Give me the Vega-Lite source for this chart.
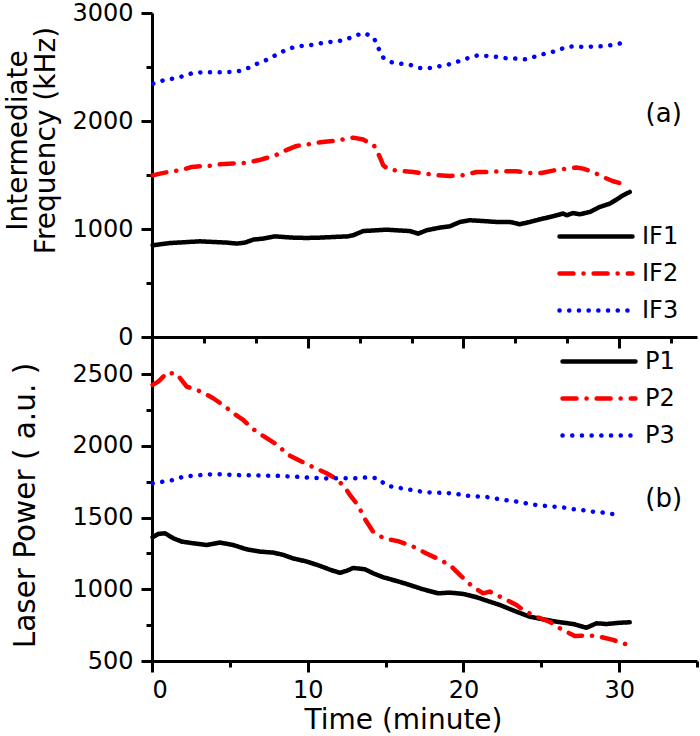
{
  "$schema": "https://vega.github.io/schema/vega-lite/v6.json",
  "padding": {"left": 3, "top": 1, "right": 0, "bottom": 0},
  "background": "white",
  "bounds": "flush",
  "spacing": 0,
  "resolve": {
    "scale": {"color": "independent", "strokeDash": "independent"},
    "legend": {"color": "independent", "strokeDash": "independent"}
  },
  "config": {
    "font": "DejaVu Sans",
    "view": {"stroke": null},
    "axis": {
      "grid": false,
      "domainColor": "black",
      "domainWidth": 3,
      "tickColor": "black",
      "tickWidth": 3,
      "labelColor": "black",
      "labelFont": "DejaVu Sans",
      "labelFontSize": 24,
      "titleColor": "black",
      "titleFont": "DejaVu Sans",
      "titleFontSize": 28,
      "titleFontWeight": "normal",
      "format": "d"
    },
    "legend": {
      "title": null,
      "orient": "none",
      "direction": "vertical",
      "columns": 1,
      "gridAlign": "all",
      "symbolType": "stroke",
      "symbolSize": 5329,
      "symbolStrokeWidth": 4.5,
      "labelFont": "DejaVu Sans",
      "labelFontSize": 24,
      "labelColor": "black",
      "labelOffset": 7,
      "clipHeight": 37,
      "rowPadding": 0,
      "padding": 0
    }
  },
  "datasets": {
    "frequency": [
      {"t": 0.04, "v": 849, "s": "IF1"}, {"t": 0.51, "v": 858, "s": "IF1"}, {"t": 1.16, "v": 870, "s": "IF1"}, {"t": 2.01, "v": 877, "s": "IF1"},
      {"t": 3.08, "v": 886, "s": "IF1"}, {"t": 3.93, "v": 880, "s": "IF1"}, {"t": 4.79, "v": 874, "s": "IF1"}, {"t": 5.44, "v": 865, "s": "IF1"},
      {"t": 5.97, "v": 874, "s": "IF1"}, {"t": 6.5, "v": 902, "s": "IF1"}, {"t": 7.14, "v": 911, "s": "IF1"}, {"t": 7.89, "v": 932, "s": "IF1"},
      {"t": 8.43, "v": 926, "s": "IF1"}, {"t": 9.07, "v": 920, "s": "IF1"}, {"t": 9.93, "v": 917, "s": "IF1"}, {"t": 10.78, "v": 920, "s": "IF1"},
      {"t": 11.64, "v": 926, "s": "IF1"}, {"t": 12.6, "v": 932, "s": "IF1"}, {"t": 12.92, "v": 942, "s": "IF1"}, {"t": 13.56, "v": 981, "s": "IF1"},
      {"t": 14.42, "v": 988, "s": "IF1"}, {"t": 15.06, "v": 994, "s": "IF1"}, {"t": 15.71, "v": 988, "s": "IF1"}, {"t": 16.56, "v": 981, "s": "IF1"},
      {"t": 17.09, "v": 957, "s": "IF1"}, {"t": 17.63, "v": 988, "s": "IF1"}, {"t": 18.49, "v": 1013, "s": "IF1"}, {"t": 19.13, "v": 1025, "s": "IF1"},
      {"t": 19.77, "v": 1065, "s": "IF1"}, {"t": 20.41, "v": 1081, "s": "IF1"}, {"t": 21.26, "v": 1074, "s": "IF1"}, {"t": 22.12, "v": 1065, "s": "IF1"},
      {"t": 22.98, "v": 1065, "s": "IF1"}, {"t": 23.62, "v": 1044, "s": "IF1"}, {"t": 24.26, "v": 1065, "s": "IF1"}, {"t": 25.11, "v": 1096, "s": "IF1"},
      {"t": 25.76, "v": 1118, "s": "IF1"}, {"t": 26.4, "v": 1143, "s": "IF1"}, {"t": 26.62, "v": 1127, "s": "IF1"}, {"t": 27.04, "v": 1148, "s": "IF1"},
      {"t": 27.47, "v": 1136, "s": "IF1"}, {"t": 28.11, "v": 1157, "s": "IF1"}, {"t": 28.75, "v": 1204, "s": "IF1"}, {"t": 29.4, "v": 1235, "s": "IF1"},
      {"t": 29.83, "v": 1272, "s": "IF1"}, {"t": 30.25, "v": 1312, "s": "IF1"}, {"t": 30.68, "v": 1343, "s": "IF1"},

      {"t": 0.04, "v": 1497, "s": "IF2"}, {"t": 0.51, "v": 1513, "s": "IF2"}, {"t": 1.05, "v": 1528, "s": "IF2"}, {"t": 1.8, "v": 1544, "s": "IF2"},
      {"t": 2.55, "v": 1574, "s": "IF2"}, {"t": 3.08, "v": 1581, "s": "IF2"}, {"t": 3.61, "v": 1583, "s": "IF2"}, {"t": 4.36, "v": 1599, "s": "IF2"},
      {"t": 5.22, "v": 1606, "s": "IF2"}, {"t": 5.97, "v": 1611, "s": "IF2"}, {"t": 6.82, "v": 1636, "s": "IF2"}, {"t": 7.57, "v": 1667, "s": "IF2"},
      {"t": 8.22, "v": 1698, "s": "IF2"}, {"t": 8.54, "v": 1726, "s": "IF2"}, {"t": 9.29, "v": 1769, "s": "IF2"}, {"t": 10.03, "v": 1784, "s": "IF2"},
      {"t": 10.57, "v": 1798, "s": "IF2"}, {"t": 11.1, "v": 1807, "s": "IF2"}, {"t": 11.83, "v": 1817, "s": "IF2"}, {"t": 12.6, "v": 1840, "s": "IF2"},
      {"t": 12.92, "v": 1846, "s": "IF2"}, {"t": 13.56, "v": 1828, "s": "IF2"}, {"t": 14.25, "v": 1775, "s": "IF2"}, {"t": 14.63, "v": 1667, "s": "IF2"},
      {"t": 14.85, "v": 1590, "s": "IF2"}, {"t": 15.17, "v": 1553, "s": "IF2"}, {"t": 15.92, "v": 1537, "s": "IF2"}, {"t": 16.77, "v": 1528, "s": "IF2"},
      {"t": 17.52, "v": 1513, "s": "IF2"}, {"t": 18.38, "v": 1497, "s": "IF2"}, {"t": 19.13, "v": 1491, "s": "IF2"}, {"t": 19.98, "v": 1497, "s": "IF2"},
      {"t": 20.86, "v": 1528, "s": "IF2"}, {"t": 21.69, "v": 1528, "s": "IF2"}, {"t": 22.45, "v": 1534, "s": "IF2"}, {"t": 23.41, "v": 1534, "s": "IF2"},
      {"t": 24.26, "v": 1519, "s": "IF2"}, {"t": 25.01, "v": 1519, "s": "IF2"}, {"t": 25.87, "v": 1544, "s": "IF2"}, {"t": 26.62, "v": 1559, "s": "IF2"},
      {"t": 27.26, "v": 1569, "s": "IF2"}, {"t": 27.68, "v": 1559, "s": "IF2"}, {"t": 28.33, "v": 1528, "s": "IF2"}, {"t": 28.97, "v": 1481, "s": "IF2"},
      {"t": 29.61, "v": 1442, "s": "IF2"}, {"t": 30.04, "v": 1426, "s": "IF2"},

      {"t": 0.08, "v": 2346, "s": "IF3"}, {"t": 0.73, "v": 2377, "s": "IF3"}, {"t": 1.37, "v": 2393, "s": "IF3"}, {"t": 1.97, "v": 2414, "s": "IF3"},
      {"t": 2.61, "v": 2444, "s": "IF3"}, {"t": 3.19, "v": 2451, "s": "IF3"}, {"t": 3.79, "v": 2451, "s": "IF3"}, {"t": 4.41, "v": 2451, "s": "IF3"},
      {"t": 5.01, "v": 2454, "s": "IF3"}, {"t": 5.6, "v": 2463, "s": "IF3"}, {"t": 6.24, "v": 2494, "s": "IF3"}, {"t": 6.85, "v": 2537, "s": "IF3"},
      {"t": 7.46, "v": 2571, "s": "IF3"}, {"t": 8.04, "v": 2618, "s": "IF3"}, {"t": 8.64, "v": 2661, "s": "IF3"}, {"t": 9.29, "v": 2692, "s": "IF3"},
      {"t": 9.88, "v": 2698, "s": "IF3"}, {"t": 10.53, "v": 2710, "s": "IF3"}, {"t": 11.17, "v": 2729, "s": "IF3"}, {"t": 11.81, "v": 2735, "s": "IF3"},
      {"t": 12.45, "v": 2754, "s": "IF3"}, {"t": 13.05, "v": 2791, "s": "IF3"}, {"t": 13.65, "v": 2815, "s": "IF3"}, {"t": 14.25, "v": 2769, "s": "IF3"},
      {"t": 14.52, "v": 2680, "s": "IF3"}, {"t": 14.85, "v": 2587, "s": "IF3"}, {"t": 15.36, "v": 2544, "s": "IF3"}, {"t": 15.98, "v": 2531, "s": "IF3"},
      {"t": 16.6, "v": 2519, "s": "IF3"}, {"t": 17.2, "v": 2491, "s": "IF3"}, {"t": 17.84, "v": 2491, "s": "IF3"}, {"t": 18.44, "v": 2506, "s": "IF3"},
      {"t": 19.08, "v": 2525, "s": "IF3"}, {"t": 19.7, "v": 2553, "s": "IF3"}, {"t": 20.3, "v": 2583, "s": "IF3"}, {"t": 20.91, "v": 2608, "s": "IF3"},
      {"t": 21.52, "v": 2602, "s": "IF3"}, {"t": 22.16, "v": 2593, "s": "IF3"}, {"t": 22.77, "v": 2581, "s": "IF3"}, {"t": 23.36, "v": 2578, "s": "IF3"},
      {"t": 24.01, "v": 2571, "s": "IF3"}, {"t": 24.65, "v": 2599, "s": "IF3"}, {"t": 25.24, "v": 2624, "s": "IF3"}, {"t": 25.87, "v": 2645, "s": "IF3"},
      {"t": 26.51, "v": 2680, "s": "IF3"}, {"t": 27.09, "v": 2692, "s": "IF3"}, {"t": 27.68, "v": 2685, "s": "IF3"}, {"t": 28.33, "v": 2689, "s": "IF3"},
      {"t": 28.93, "v": 2692, "s": "IF3"}, {"t": 29.57, "v": 2704, "s": "IF3"}, {"t": 30.19, "v": 2722, "s": "IF3"}
    ],
    "power": [
      {"t": 0.04, "v": 1363, "s": "P1"}, {"t": 0.4, "v": 1386, "s": "P1"}, {"t": 0.83, "v": 1391, "s": "P1"}, {"t": 1.37, "v": 1356, "s": "P1"},
      {"t": 1.91, "v": 1333, "s": "P1"}, {"t": 2.65, "v": 1321, "s": "P1"}, {"t": 3.51, "v": 1309, "s": "P1"}, {"t": 4.36, "v": 1326, "s": "P1"},
      {"t": 5.22, "v": 1309, "s": "P1"}, {"t": 6.08, "v": 1279, "s": "P1"}, {"t": 6.93, "v": 1263, "s": "P1"}, {"t": 7.79, "v": 1256, "s": "P1"},
      {"t": 8.43, "v": 1240, "s": "P1"}, {"t": 9.07, "v": 1215, "s": "P1"}, {"t": 9.93, "v": 1194, "s": "P1"}, {"t": 10.78, "v": 1164, "s": "P1"},
      {"t": 11.53, "v": 1133, "s": "P1"}, {"t": 12.07, "v": 1115, "s": "P1"}, {"t": 12.5, "v": 1129, "s": "P1"}, {"t": 12.92, "v": 1149, "s": "P1"},
      {"t": 13.67, "v": 1140, "s": "P1"}, {"t": 14.2, "v": 1112, "s": "P1"}, {"t": 14.85, "v": 1084, "s": "P1"}, {"t": 15.71, "v": 1058, "s": "P1"},
      {"t": 16.56, "v": 1030, "s": "P1"}, {"t": 17.41, "v": 1000, "s": "P1"}, {"t": 18.38, "v": 972, "s": "P1"}, {"t": 19.13, "v": 977, "s": "P1"},
      {"t": 19.98, "v": 968, "s": "P1"}, {"t": 20.84, "v": 945, "s": "P1"}, {"t": 21.69, "v": 914, "s": "P1"}, {"t": 22.34, "v": 891, "s": "P1"},
      {"t": 23.41, "v": 844, "s": "P1"}, {"t": 24.26, "v": 809, "s": "P1"}, {"t": 25.11, "v": 791, "s": "P1"}, {"t": 25.98, "v": 774, "s": "P1"},
      {"t": 27.04, "v": 758, "s": "P1"}, {"t": 27.9, "v": 732, "s": "P1"}, {"t": 28.54, "v": 763, "s": "P1"}, {"t": 29.19, "v": 758, "s": "P1"},
      {"t": 30.04, "v": 767, "s": "P1"}, {"t": 30.68, "v": 770, "s": "P1"},

      {"t": 0.04, "v": 2426, "s": "P2"}, {"t": 0.4, "v": 2449, "s": "P2"}, {"t": 0.73, "v": 2484, "s": "P2"}, {"t": 0.94, "v": 2512, "s": "P2"},
      {"t": 1.59, "v": 2503, "s": "P2"}, {"t": 2.23, "v": 2414, "s": "P2"}, {"t": 2.87, "v": 2391, "s": "P2"}, {"t": 3.29, "v": 2372, "s": "P2"},
      {"t": 3.93, "v": 2333, "s": "P2"}, {"t": 4.69, "v": 2275, "s": "P2"}, {"t": 5.22, "v": 2229, "s": "P2"}, {"t": 5.86, "v": 2182, "s": "P2"},
      {"t": 6.4, "v": 2124, "s": "P2"}, {"t": 7.14, "v": 2070, "s": "P2"}, {"t": 8.0, "v": 2011, "s": "P2"}, {"t": 8.75, "v": 1938, "s": "P2"},
      {"t": 9.5, "v": 1897, "s": "P2"}, {"t": 10.35, "v": 1852, "s": "P2"}, {"t": 11.21, "v": 1810, "s": "P2"}, {"t": 11.94, "v": 1763, "s": "P2"},
      {"t": 12.5, "v": 1693, "s": "P2"}, {"t": 12.71, "v": 1658, "s": "P2"}, {"t": 13.24, "v": 1584, "s": "P2"}, {"t": 13.67, "v": 1491, "s": "P2"},
      {"t": 14.2, "v": 1402, "s": "P2"}, {"t": 14.89, "v": 1356, "s": "P2"}, {"t": 15.79, "v": 1336, "s": "P2"}, {"t": 16.67, "v": 1304, "s": "P2"},
      {"t": 17.46, "v": 1259, "s": "P2"}, {"t": 18.23, "v": 1219, "s": "P2"}, {"t": 19.13, "v": 1170, "s": "P2"}, {"t": 19.82, "v": 1095, "s": "P2"},
      {"t": 20.52, "v": 1025, "s": "P2"}, {"t": 21.26, "v": 972, "s": "P2"}, {"t": 21.69, "v": 984, "s": "P2"}, {"t": 22.34, "v": 949, "s": "P2"},
      {"t": 23.41, "v": 891, "s": "P2"}, {"t": 23.83, "v": 856, "s": "P2"}, {"t": 24.69, "v": 809, "s": "P2"}, {"t": 25.55, "v": 772, "s": "P2"},
      {"t": 26.19, "v": 728, "s": "P2"}, {"t": 27.15, "v": 674, "s": "P2"}, {"t": 28.11, "v": 678, "s": "P2"}, {"t": 28.75, "v": 670, "s": "P2"},
      {"t": 29.61, "v": 647, "s": "P2"}, {"t": 30.57, "v": 612, "s": "P2"},

      {"t": 0.04, "v": 1740, "s": "P3"}, {"t": 0.73, "v": 1751, "s": "P3"}, {"t": 1.37, "v": 1763, "s": "P3"}, {"t": 2.01, "v": 1786, "s": "P3"},
      {"t": 2.65, "v": 1793, "s": "P3"}, {"t": 3.29, "v": 1798, "s": "P3"}, {"t": 3.9, "v": 1803, "s": "P3"}, {"t": 4.54, "v": 1803, "s": "P3"},
      {"t": 5.13, "v": 1798, "s": "P3"}, {"t": 5.76, "v": 1796, "s": "P3"}, {"t": 6.4, "v": 1796, "s": "P3"}, {"t": 7.04, "v": 1794, "s": "P3"},
      {"t": 7.68, "v": 1792, "s": "P3"}, {"t": 8.32, "v": 1791, "s": "P3"}, {"t": 8.92, "v": 1786, "s": "P3"}, {"t": 9.54, "v": 1784, "s": "P3"},
      {"t": 10.14, "v": 1778, "s": "P3"}, {"t": 10.78, "v": 1777, "s": "P3"}, {"t": 11.42, "v": 1772, "s": "P3"}, {"t": 12.02, "v": 1776, "s": "P3"},
      {"t": 12.63, "v": 1774, "s": "P3"}, {"t": 13.24, "v": 1775, "s": "P3"}, {"t": 13.86, "v": 1782, "s": "P3"}, {"t": 14.49, "v": 1775, "s": "P3"},
      {"t": 15.06, "v": 1723, "s": "P3"}, {"t": 15.66, "v": 1712, "s": "P3"}, {"t": 16.3, "v": 1700, "s": "P3"}, {"t": 16.93, "v": 1688, "s": "P3"},
      {"t": 17.57, "v": 1677, "s": "P3"}, {"t": 18.18, "v": 1674, "s": "P3"}, {"t": 18.81, "v": 1672, "s": "P3"}, {"t": 19.42, "v": 1669, "s": "P3"},
      {"t": 20.05, "v": 1656, "s": "P3"}, {"t": 20.68, "v": 1648, "s": "P3"}, {"t": 21.28, "v": 1647, "s": "P3"}, {"t": 21.92, "v": 1637, "s": "P3"},
      {"t": 22.51, "v": 1624, "s": "P3"}, {"t": 23.15, "v": 1617, "s": "P3"}, {"t": 23.79, "v": 1605, "s": "P3"}, {"t": 24.44, "v": 1591, "s": "P3"},
      {"t": 25.05, "v": 1584, "s": "P3"}, {"t": 25.69, "v": 1577, "s": "P3"}, {"t": 26.34, "v": 1573, "s": "P3"}, {"t": 26.94, "v": 1559, "s": "P3"},
      {"t": 27.58, "v": 1554, "s": "P3"}, {"t": 28.22, "v": 1542, "s": "P3"}, {"t": 28.82, "v": 1538, "s": "P3"}, {"t": 29.44, "v": 1526, "s": "P3"},
      {"t": 30.04, "v": 1524, "s": "P3"}
    ]
  },
  "vconcat": [
    {
      "width": 545,
      "height": 324,
      "resolve": {"axis": {"x": "independent", "y": "independent"}},
      "layer": [
        {
          "data": {"name": "frequency"},
          "mark": {"type": "line", "strokeWidth": 4.5, "strokeCap": "round", "strokeJoin": "round"},
          "encoding": {
            "x": {
              "field": "t", "type": "quantitative",
              "scale": {"domain": [0, 35], "nice": false, "zero": false},
              "axis": {"orient": "bottom", "values": [0, 10, 20, 30], "labels": false, "tickSize": 11, "title": null}
            },
            "y": {
              "field": "v", "type": "quantitative",
              "scale": {"domain": [0, 3000], "nice": false},
              "axis": {
                "orient": "left", "values": [0, 1000, 2000, 3000], "tickSize": 11, "labelPadding": 8,
                "title": ["Intermediate", "Frequency (kHz)"], "titleLineHeight": 28,
                "titleX": -120, "titleY": 127, "titleAngle": 270, "titleBaseline": "bottom"
              }
            },
            "color": {
              "field": "s", "type": "nominal",
              "scale": {"domain": ["IF1", "IF2", "IF3"], "range": ["#000000", "#ff0000", "#0000ff"]},
              "legend": {"legendX": 405, "legendY": 205, "encode": {"symbols": {"update": {"strokeCap": {"value": "round"}}}}}
            },
            "strokeDash": {
              "field": "s", "type": "nominal",
              "scale": {"domain": ["IF1", "IF2", "IF3"], "range": [[1, 0], [14, 10, 0.1, 10], [0.1, 9.6]]},
              "legend": {"legendX": 405, "legendY": 205, "encode": {"symbols": {"update": {"strokeCap": {"value": "round"}}}}}
            }
          }
        },
        {
          "data": {"name": "frequency"},
          "mark": {"type": "point", "opacity": 0},
          "encoding": {
            "x": {
              "field": "t", "type": "quantitative",
              "axis": {"orient": "bottom", "values": [3.333, 6.667, 13.333, 16.667, 23.333, 26.667, 33.333], "labels": false, "domain": false, "tickSize": 6, "title": null}
            },
            "y": {
              "field": "v", "type": "quantitative",
              "axis": {"orient": "left", "values": [500, 1500, 2500], "labels": false, "domain": false, "tickSize": 6, "title": null}
            }
          }
        },
        {
          "data": {"values": [{"t": 32.86, "v": 2062, "label": "(a)"}]},
          "mark": {"type": "text", "fontSize": 26, "color": "black", "align": "center", "baseline": "middle"},
          "encoding": {
            "x": {"field": "t", "type": "quantitative", "axis": null},
            "y": {"field": "v", "type": "quantitative", "axis": null},
            "text": {"field": "label"}
          }
        }
      ]
    },
    {
      "width": 545,
      "height": 324,
      "resolve": {"axis": {"x": "independent", "y": "independent"}},
      "layer": [
        {
          "data": {"name": "power"},
          "mark": {"type": "line", "strokeWidth": 4.5, "strokeCap": "round", "strokeJoin": "round"},
          "encoding": {
            "x": {
              "field": "t", "type": "quantitative",
              "scale": {"domain": [0, 35], "nice": false, "zero": false},
              "axis": {
                "orient": "bottom", "values": [0, 10, 20, 30], "tickSize": 11, "labelPadding": 6,
                "title": "Time (minute)", "titleX": 251, "titleY": 67, "titleBaseline": "alphabetic", "titleAlign": "center"
              }
            },
            "y": {
              "field": "v", "type": "quantitative",
              "scale": {"domain": [500, 2760], "nice": false, "zero": false},
              "axis": {
                "orient": "left", "values": [500, 1000, 1500, 2000, 2500], "tickSize": 11, "labelPadding": 8,
                "title": "Laser Power ( a.u. )", "titleFontSize": 29.5,
                "titleX": -112, "titleY": 168, "titleAngle": 270, "titleBaseline": "bottom"
              }
            },
            "color": {
              "field": "s", "type": "nominal",
              "scale": {"domain": ["P1", "P2", "P3"], "range": ["#000000", "#ff0000", "#0000ff"]},
              "legend": {"legendX": 408, "legendY": 6, "encode": {"symbols": {"update": {"strokeCap": {"value": "round"}}}}}
            },
            "strokeDash": {
              "field": "s", "type": "nominal",
              "scale": {"domain": ["P1", "P2", "P3"], "range": [[1, 0], [14, 10, 0.1, 10], [0.1, 9.6]]},
              "legend": {"legendX": 408, "legendY": 6, "encode": {"symbols": {"update": {"strokeCap": {"value": "round"}}}}}
            }
          }
        },
        {
          "data": {"name": "power"},
          "mark": {"type": "point", "opacity": 0},
          "encoding": {
            "x": {
              "field": "t", "type": "quantitative",
              "axis": {"orient": "bottom", "values": [5, 15, 25, 35], "labels": false, "domain": false, "tickSize": 6, "title": null}
            },
            "y": {
              "field": "v", "type": "quantitative",
              "axis": {"orient": "left", "values": [750, 1250, 1750, 2250], "labels": false, "domain": false, "tickSize": 6, "title": null}
            }
          }
        },
        {
          "data": {"values": [{"t": 32.86, "v": 1630, "label": "(b)"}]},
          "mark": {"type": "text", "fontSize": 26, "color": "black", "align": "center", "baseline": "middle"},
          "encoding": {
            "x": {"field": "t", "type": "quantitative", "axis": null},
            "y": {"field": "v", "type": "quantitative", "axis": null},
            "text": {"field": "label"}
          }
        }
      ]
    }
  ]
}
